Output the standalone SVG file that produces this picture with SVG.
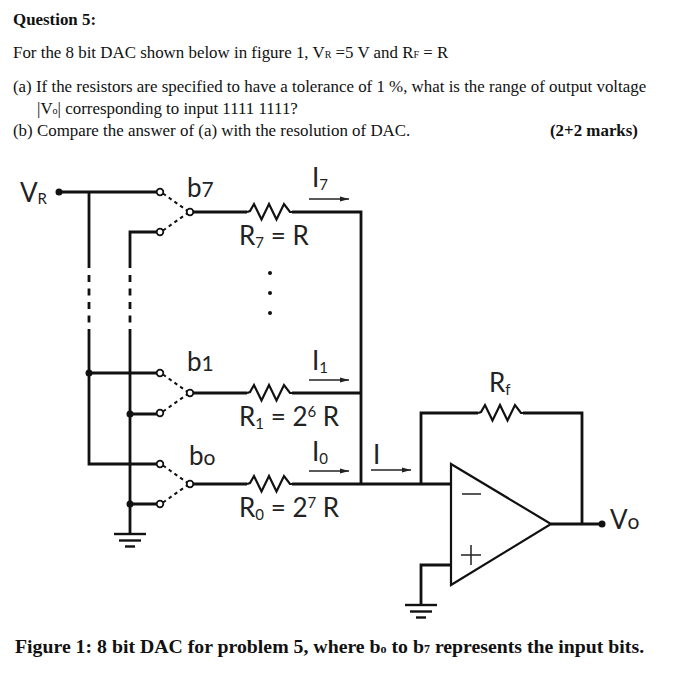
<svg xmlns="http://www.w3.org/2000/svg" width="697" height="673" viewBox="0 0 697 673">
<style>
.t{font-family:"Liberation Serif",serif;font-size:16.900px;fill:#111}
.b{font-weight:bold}
.s{font-size:10px}
.c{font-size:19.800px}
.cs{font-size:12px}
.m{font-family:Lato,"Open Sans",sans-serif;font-size:26px;fill:#222}
.ms{font-size:15px}
.mb{font-size:21px}
.w{fill:none;stroke:#111;stroke-width:2.800;stroke-linejoin:miter}
.n{fill:none;stroke:#111;stroke-width:2.200}
.d{fill:none;stroke:#111;stroke-width:2;stroke-dasharray:3.500 3.500}
.a{fill:none;stroke:#222;stroke-width:1.400;marker-end:url(#ah)}
.o{fill:#fff;stroke:#111;stroke-width:1.800}
.f{fill:#111}
</style>
<defs>
<marker id="ah" markerUnits="userSpaceOnUse" markerWidth="10" markerHeight="6" refX="9" refY="3" orient="auto"><path d="M0 0.600L9 3L0 5.400z" fill="#222"/></marker>
<g id="gnd"><path d="M-16 0H16" stroke="#111" stroke-width="2.400"/><path d="M-11 6.500H11" stroke="#111" stroke-width="2.400"/><path d="M-5 12.500H5" stroke="#111" stroke-width="2.400"/></g>
<path id="res" d="M0 0L3 -1L7 -8L14.500 7.500L22 -8L29.500 7.500L37 -8L43 0L45 0"/>
<g id="sw"><path class="d" d="M3 1.500L27 18.500M3 38.500L27 21.500"/><circle class="o" cx="0" cy="0" r="3.300"/><circle class="o" cx="0" cy="40" r="3.300"/><circle class="o" cx="30" cy="20" r="3.300"/></g>
</defs>
<g id="question">
<text class="t b" x="13" y="25">Question 5:</text>
<text class="t" x="13" y="58">For the 8 bit DAC shown below in figure 1, V<tspan class="s">R</tspan> =5 V and R<tspan class="s">F</tspan> = R</text>
<text class="t" x="13" y="92">(a) If the resistors are specified to have a tolerance of 1 %, what is the range of output voltage</text>
<text class="t" x="37" y="114">|V<tspan class="s">o</tspan>| corresponding to input 1111 1111?</text>
<text class="t" x="13" y="136">(b) Compare the answer of (a) with the resolution of DAC.</text>
<text class="t b" x="550" y="136">(2+2 marks)</text>
<text class="t b c" x="15" y="653">Figure 1: 8 bit DAC for problem 5, where b<tspan class="cs">o</tspan> to b<tspan class="cs">7</tspan> represents the input bits.</text>
</g>
<g id="connectors">
<path class="w" d="M59 192H157M89 192V268M130 268V232H157"/>
<path class="w" d="M89 330V464H157M130 330V534M89 373H157M130 414H157M130 504H157"/>
<path class="w" stroke-dasharray="7 6.500" d="M89 275V330M130 275V330"/>
<path class="w" d="M193 212H247M292 212H361V484M193 393H247M292 393H361M193 484H247M292 484H451M421 484V413H478M523 413H582V524M551 524H602M451 565H421V605"/>
<path class="a" d="M309 199H349"/><path class="a" d="M309 380H349"/><path class="a" d="M309 471H349"/><path class="a" d="M371 470H411"/>
</g>
<g id="source-vr"><circle class="f" cx="59" cy="192" r="3.500"/><text class="m" x="20" y="202">V<tspan class="ms" dy="2">R</tspan></text></g>
<g id="junctions"><circle class="f" cx="89" cy="373" r="3.500"/><circle class="f" cx="130" cy="414" r="3.500"/><circle class="f" cx="130" cy="504" r="3.500"/></g>
<g id="switch-b7"><use href="#sw" x="160" y="192"/><text class="m" x="187" y="197">b<tspan class="mb">7</tspan></text></g>
<g id="switch-b1"><use href="#sw" x="160" y="373"/><text class="m" x="187" y="371">b<tspan class="mb">1</tspan></text></g>
<g id="switch-b0"><use href="#sw" x="160" y="464"/><text class="m" x="189" y="465">b<tspan class="mb">o</tspan></text></g>
<g id="r7"><use href="#res" class="n" x="247" y="212"/><text class="m" x="239" y="245">R<tspan class="ms" dy="3">7</tspan><tspan dy="-3"> = R</tspan></text></g>
<g id="r1"><use href="#res" class="n" x="247" y="393"/><text class="m" x="239" y="426">R<tspan class="ms" dy="3">1</tspan><tspan dy="-3"> = 2</tspan><tspan class="ms" dy="-9">6</tspan><tspan dy="9"> R</tspan></text></g>
<g id="r0"><use href="#res" class="n" x="247" y="484"/><text class="m" x="239" y="517">R<tspan class="ms" dy="3">0</tspan><tspan dy="-3"> = 2</tspan><tspan class="ms" dy="-9">7</tspan><tspan dy="9"> R</tspan></text></g>
<g id="i7"><text class="m" x="312" y="187">I<tspan class="ms" dy="3">7</tspan></text></g>
<g id="i1"><text class="m" x="312" y="370">I<tspan class="ms" dy="3">1</tspan></text></g>
<g id="i0"><text class="m" x="312" y="461">I<tspan class="ms" dy="3">0</tspan></text></g>
<g id="i"><text class="m" x="373" y="464">I</text></g>
<g id="dots"><circle class="f" cx="270" cy="273" r="2"/><circle class="f" cx="270" cy="293" r="2"/><circle class="f" cx="270" cy="313" r="2"/></g>
<g id="ground-1"><use href="#gnd" x="130" y="534"/></g>
<g id="ground-2"><use href="#gnd" x="421" y="605"/></g>
<g id="rf"><use href="#res" class="n" x="478" y="413"/><text class="m" x="489" y="392">R<tspan class="ms" dy="3">f</tspan></text></g>
<g id="opamp"><path d="M451 464L551 524L451 585Z" fill="#fff" stroke="#111" stroke-width="2.200"/><path d="M462 494H481M461 555H481M471 545V565" stroke="#222" stroke-width="1.500" fill="none"/></g>
<g id="output-vo"><circle class="f" cx="602" cy="524" r="3.500"/><text class="m" x="610" y="529">V<tspan class="mb">o</tspan></text></g>
</svg>
